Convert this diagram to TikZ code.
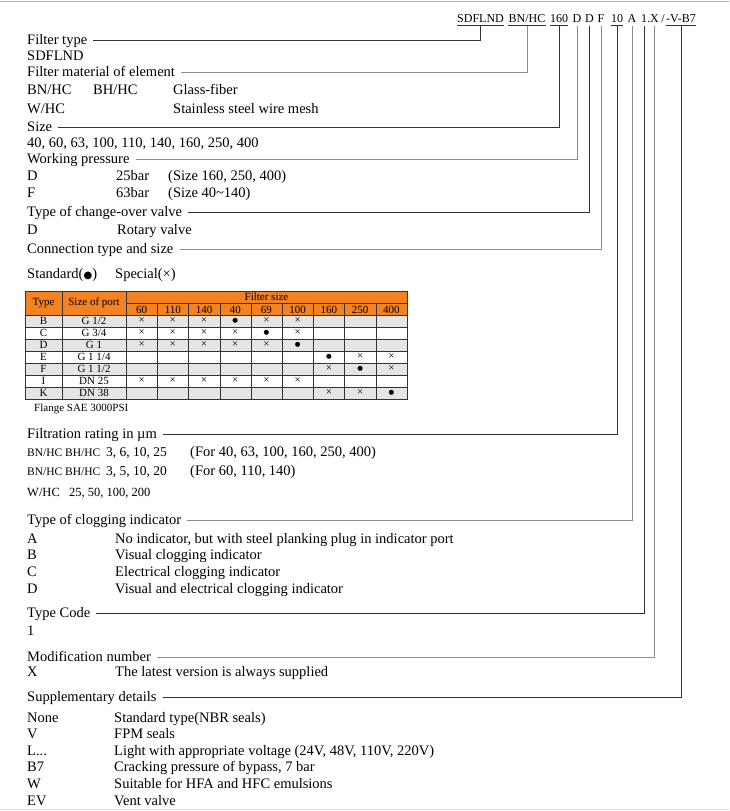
\documentclass[tikz,border=0pt]{standalone}
\usepackage{fontspec}
\setmainfont{Liberation Serif}
\newfontfamily\symfont{DejaVu Sans}
\usepackage{xcolor}
\usetikzlibrary{positioning}

\definecolor{hdrorange}{RGB}{245,130,32}
\definecolor{rowgray}{RGB}{229,229,231}
\newcommand\mkx{×}
\newcommand\mko{{\symfont\fontsize{6.5}{7}\selectfont ●}}
\newcommand\mkn{}

\begin{document}
\begin{tikzpicture}[
  x=1pt, y=-1pt,
  font=\fontsize{14.5}{16}\selectfont,
  lab/.style={anchor=base west, inner sep=0pt, text height=10pt, text depth=3pt},
  labsm/.style={lab, font=\fontsize{12.5}{14}\selectfont},
  code/.style={anchor=base, inner sep=0pt, text height=9pt, text depth=2.5pt, font=\fontsize{12}{14}\selectfont},
  lk/.style={draw=black!80, line width=0.8pt},
  lg/.style={draw=black!45, line width=1pt},
  tabline/.style={draw=black!80, line width=0.7pt},
  cell/.style={inner sep=0pt, font=\fontsize{11}{12}\selectfont}]
\useasboundingbox (0,0) rectangle (729,811);
\draw[black!30, line width=1pt] (0,1) -- (729,1);
\draw[black!12, line width=1pt] (0,809) -- (729,809);

% order code
\node[code] (cSD) at (480.5,23) {SDFLND};
\node[code] (cBN) at (527,23) {BN/HC};
\node[code] (c160) at (559,23) {160};
\node[code] (cD1) at (577,23) {D};
\node[code] (cD2) at (589.5,23) {D};
\node[code] (cF) at (601,23) {F};
\node[code] (c10) at (617,23) {10};
\node[code] (cA) at (632,23) {A};
\node[code] (c1) at (644,23) {1};
\node[code, anchor=base west] (cdot) at (c1.base east) {.};
\node[code] (cX) at (654.5,23) {X};
\node[code] (csl) at (663,23) {/};
\node[code] (cB7) at (681,23) {-V-B7};
\foreach \n in {cSD,cBN,c160,c10,cB7}
  \draw[lk, line width=0.6pt] (\n.south west) -- (\n.south east);

% left column
\node[lab] (ft) at (27,44) {Filter type};
\node[lab] (ftv) at (27,60.5) {SDFLND};
\node[lab] (fm) at (27,76) {Filter material of element};
\node[lab] (fm1) at (27,94.5) {BN/HC};
\node[lab] (fm1b) at (93,94.5) {BH/HC};
\node[lab] (fm1c) at (173,94.5) {Glass-fiber};
\node[lab] (fm2) at (27,113.5) {W/HC};
\node[lab] (fm2c) at (173,113.5) {Stainless steel wire mesh};
\node[lab] (sz) at (27,131) {Size};
\node[lab] (sz1) at (27,147) {40, 60, 63, 100, 110, 140, 160, 250, 400};
\node[lab] (wp) at (27,163) {Working pressure};
\node[lab] (wp1) at (27,180.5) {D};
\node[lab] (wp1b) at (116,180.5) {25bar};
\node[lab] (wp1c) at (168,180.5) {(Size 160, 250, 400)};
\node[lab] (wp2) at (27,197) {F};
\node[lab] (wp2b) at (116,197) {63bar};
\node[lab] (wp2c) at (168,197) {(Size 40\textasciitilde140)};
\node[lab] (cv) at (27,216) {Type of change-over valve};
\node[lab] (cv1) at (27,234.5) {D};
\node[lab] (cv1b) at (117,234.5) {Rotary valve};
\node[lab] (ct) at (27,253) {Connection type and size};
\node[lab] (std) at (27,278.5) {Standard({\symfont\fontsize{10}{12}\selectfont ●})};
\node[lab] (spc) at (115,278.5) {Special(×)};

% connection table
\fill[hdrorange] (25,291) rectangle (407,315);
\fill[rowgray] (25,315) rectangle (407,327);
\fill[rowgray] (25,339) rectangle (407,351);
\fill[rowgray] (25,363) rectangle (407,375);
\fill[rowgray] (25,387) rectangle (407,399);
\draw[tabline] (25,291) rectangle (407,399);
\foreach \y in {315,327,...,387}
  \draw[tabline] (25,\y) -- (407,\y);
\draw[tabline] (126,303) -- (407,303);
\draw[tabline] (62,291) -- (62,399);
\draw[tabline] (126,291) -- (126,399);
\foreach \x in {157,188,220,251,282,313,344,376}
  \draw[tabline] (\x,303) -- (\x,399);
\node[cell] (hT) at (43.5,303) {Type};
\node[cell] (hS) at (94,303) {Size of port};
\node[cell] (hF) at (266.5,297) {Filter size};
\foreach \n [count=\c] in {60,110,140,40,69,100,160,250,400}
  \node[cell] (n\c) at ({126+31.22*(\c-0.5)},309.5) {\n};
\foreach \t/\p/\m [count=\r] in {
    B/{G 1/2}/{\mkx,\mkx,\mkx,\mko,\mkx,\mkx,\mkn,\mkn,\mkn},
    C/{G 3/4}/{\mkx,\mkx,\mkx,\mkx,\mko,\mkx,\mkn,\mkn,\mkn},
    D/{G 1}/{\mkx,\mkx,\mkx,\mkx,\mkx,\mko,\mkn,\mkn,\mkn},
    E/{G 1 1/4}/{\mkn,\mkn,\mkn,\mkn,\mkn,\mkn,\mko,\mkx,\mkx},
    F/{G 1 1/2}/{\mkn,\mkn,\mkn,\mkn,\mkn,\mkn,\mkx,\mko,\mkx},
    I/{DN 25}/{\mkx,\mkx,\mkx,\mkx,\mkx,\mkx,\mkn,\mkn,\mkn},
    K/{DN 38}/{\mkn,\mkn,\mkn,\mkn,\mkn,\mkn,\mkx,\mkx,\mko}} {
  \node[cell] (t\r) at (43.5,{315+12*(\r-0.5)}) {\t};
  \node[cell] (p\r) at (94,{315+12*(\r-0.5)}) {\p};
  \foreach \k [count=\c] in \m
    \node[cell] (m\r-\c) at ({126+31.22*(\c-0.5)},{315+12*(\r-0.5)}) {\k};
}
\node[cell, anchor=base west] (flg) at (34,411) {Flange SAE 3000PSI};

\node[lab] (fr) at (27,438) {Filtration rating in µm};
\node[lab, font=\fontsize{11.5}{13}\selectfont] (fr1) at (27,456.5) {BN/HC BH/HC};
\node[lab, font=\fontsize{13.5}{15}\selectfont] (fr1b) at (106,456.5) {3, 6, 10, 25};
\node[lab] (fr1c) at (190,456.5) {(For 40, 63, 100, 160, 250, 400)};
\node[lab, font=\fontsize{11.5}{13}\selectfont] (fr2) at (27,475.5) {BN/HC BH/HC};
\node[lab, font=\fontsize{13.5}{15}\selectfont] (fr2b) at (106,475.5) {3, 5, 10, 20};
\node[lab] (fr2c) at (190,475.5) {(For 60, 110, 140)};
\node[labsm] (fr3) at (27,496.5) {W/HC};
\node[labsm] (fr3b) at (69,496.5) {25, 50, 100, 200};
\node[lab] (ci) at (27,524) {Type of clogging indicator};
\node[lab] (ciA) at (27,543.5) {A};
\node[lab] (ciAb) at (115,543.5) {No indicator, but with steel planking plug in indicator port};
\node[lab] (ciB) at (27,559.5) {B};
\node[lab] (ciBb) at (115,559.5) {Visual clogging indicator};
\node[lab] (ciC) at (27,576.5) {C};
\node[lab] (ciCb) at (115,576.5) {Electrical clogging indicator};
\node[lab] (ciD) at (27,593.5) {D};
\node[lab] (ciDb) at (115,593.5) {Visual and electrical clogging indicator};
\node[lab] (tc) at (27,617) {Type Code};
\node[lab] (tc1) at (27,635.5) {1};
\node[lab] (mn) at (27,661) {Modification number};
\node[lab] (mnX) at (27,676.5) {X};
\node[lab] (mnXb) at (115,676.5) {The latest version is always supplied};
\node[lab] (sd) at (27,701) {Supplementary details};
\node[lab] (sd1) at (27,722.5) {None};
\node[lab] (sd1b) at (114,722.5) {Standard type(NBR seals)};
\node[lab] (sd2) at (27,738.5) {V};
\node[lab] (sd2b) at (114,738.5) {FPM seals};
\node[lab] (sd3) at (27,755.5) {L...};
\node[lab] (sd3b) at (114,755.5) {Light with appropriate voltage (24V, 48V, 110V, 220V)};
\node[lab] (sd4) at (27,771.5) {B7};
\node[lab] (sd4b) at (114,771.5) {Cracking pressure of bypass, 7 bar};
\node[lab] (sd5) at (27,788.5) {W};
\node[lab] (sd5b) at (114,788.5) {Suitable for HFA and HFC emulsions};
\node[lab] (sd6) at (27,805.5) {EV};
\node[lab] (sd6b) at (114,805.5) {Vent valve};

% leader lines
\draw[lk] ([xshift=6pt]ft.east) -| (cSD.south);
\draw[lg] ([xshift=6pt]fm.east) -| (cBN.south);
\draw[lk] ([xshift=6pt]sz.east) -| (c160.south);
\draw[lg] ([xshift=6pt]wp.east) -| (cD1.south);
\draw[lk] ([xshift=6pt]cv.east) -| (cD2.south);
\draw[lg] ([xshift=6pt]ct.east) -| (cF.south);
\draw[lk] ([xshift=6pt]fr.east) -| (c10.south);
\draw[lg] ([xshift=6pt]ci.east) -| (cA.south);
\draw[lk] ([xshift=6pt]tc.east) -| (c1.south);
\draw[lg] ([xshift=6pt]mn.east) -| (cX.south);
\draw[lk] ([xshift=6pt]sd.east) -| (cB7.south);
\end{tikzpicture}
\end{document}
